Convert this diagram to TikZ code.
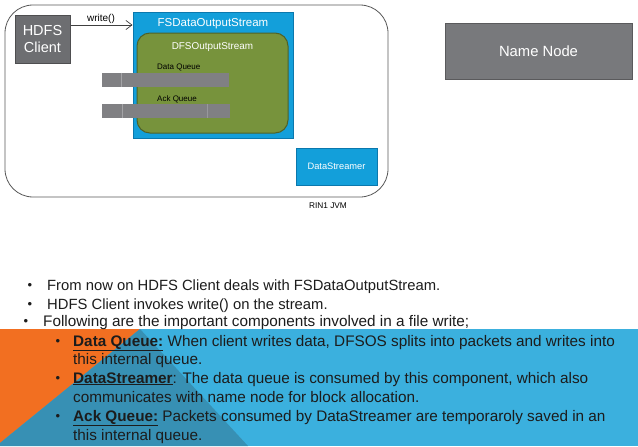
\documentclass[tikz,border=0pt]{standalone}
\usepackage{fontspec}
\setmainfont{Liberation Sans}
\usetikzlibrary{arrows.meta,calc}
\definecolor{boxgray}{HTML}{6D6E71}
\definecolor{boxgrayline}{HTML}{4E4E50}
\definecolor{nngray}{HTML}{78797C}
\definecolor{nngrayline}{HTML}{5A5A5C}
\definecolor{streamblue}{HTML}{139FDA}
\definecolor{streambluel}{HTML}{0B78AD}
\definecolor{dfsgreen}{HTML}{77933C}
\definecolor{dfsgreenl}{HTML}{4F6228}
\definecolor{qgray}{HTML}{808083}
\definecolor{qdiv}{HTML}{A3A3A6}
\definecolor{bandblue}{HTML}{3BB0DE}
\definecolor{banddark}{HTML}{3790B4}
\definecolor{bandorange}{HTML}{F26F21}
\definecolor{txt}{HTML}{1C1C1C}
\newcommand{\fs}[1]{\fontsize{#1}{#1}\selectfont}
\tikzset{
  whitebox/.style={inner sep=0pt, text=white},
  bodytext/.style={anchor=base west, inner sep=0pt, text=txt, font=\fs{14.8}},
  subtext/.style={bodytext, font=\fs{15.3}},
  bul/.style={anchor=base, inner sep=0pt, text=txt, font=\fs{13}},
  small/.style={inner sep=0pt, text=black},
  qbar/.style={fill=qgray, draw=none, inner sep=0pt, minimum height=14pt},
  qline/.style={draw=qdiv, line width=0.8pt}
}
\begin{document}
\begin{tikzpicture}[x=1pt,y=-1pt]
\useasboundingbox (0,0) rectangle (638,447);
\fill[white] (0,0) rectangle (638,447);
% band
\fill[bandblue] (0,329) rectangle (638,446);
\fill[bandorange] (0,329) -- (140,329) -- (0,443) -- cycle;
\fill[banddark] (140,329) -- (248,446) -- (0,446) -- (0,443) -- cycle;
% JVM container
\node[draw=black!65, line width=0.8pt, rounded corners=28pt, minimum width=383pt, minimum height=192pt, inner sep=0pt] (jvm) at (196.5,101) {};
\node[small, font=\fs{8.3}] (jvmlbl) at (328,206) {RIN1 JVM};
% HDFS Client
\node[whitebox, fill=boxgray, draw=boxgrayline, line width=1pt, minimum width=55pt, minimum height=48pt, align=center, font=\fs{14.5}] (client) at (42.5,39) {HDFS\\[3pt]Client};
% FSDataOutputStream
\node[fill=streamblue, draw=streambluel, line width=1pt, minimum width=160pt, minimum height=126pt, inner sep=0pt] (fsd) at (213,75) {};
\node[whitebox, font=\fs{11.5}] (fsdlbl) at (213,24) {FSDataOutputStream};
% DFSOutputStream
\node[fill=dfsgreen, draw=dfsgreenl, line width=1pt, rounded corners=13pt, minimum width=151pt, minimum height=100pt, inner sep=0pt] (dfs) at (212.5,83) {};
\node[whitebox, font=\fs{9.9}] (dfslbl) at (212.5,47) {DFSOutputStream};
% queues
\node[small, anchor=west, font=\fs{8}] (dql) at (157,67) {Data Queue};
\node[qbar, minimum width=127pt] (dq) at (165.5,80) {};
\draw[qline] ($(dq.north west)+(20,0)$) -- ($(dq.south west)+(20,0)$);
\node[small, anchor=west, font=\fs{8}] (aql) at (157,99) {Ack Queue};
\node[qbar, minimum width=128pt] (aq) at (166,111) {};
\draw[qline] ($(aq.north west)+(21,0)$) -- ($(aq.south west)+(21,0)$);
\draw[qline, draw=qdiv!70!qgray] ($(aq.north west)+(106,0)$) -- ($(aq.south west)+(106,0)$);
% DataStreamer
\node[whitebox, fill=streamblue, draw=streambluel, line width=1pt, minimum width=81pt, minimum height=37pt, font=\fs{9.3}] (ds) at (336.5,166.5) {DataStreamer};
% write arrow
\coordinate (wy) at (0,25);
\draw[black!75, line width=0.7pt, -{Straight Barb[length=6pt,width=9pt]}] (client.east |- wy) -- (fsd.west |- wy);
\node[small, font=\fs{10}] (wlbl) at (101,19) {write()};
% Name Node
\node[whitebox, fill=nngray, draw=nngrayline, line width=1pt, minimum width=187pt, minimum height=56pt, font=\fs{14.8}] (nn) at (538.5,51) {Name Node};
% bullets
\node[bul] (bu1) at (30,289) {•};
\node[bodytext] (t1) at (47,290) {From now on HDFS Client deals with FSDataOutputStream.};
\node[bul] (bu2) at (30,308) {•};
\node[bodytext] (t2) at (47,309) {HDFS Client invokes write() on the stream.};
\node[bul] (bu3) at (26,325) {•};
\node[subtext] (t3) at (43,326) {Following are the important components involved in a file write;};
\node[bul] (bu4) at (58,345) {•};
\node[subtext] (t4a) at (73,346) {\textbf{\underline{Data Queue:}} When client writes data, DFSOS splits into packets and writes into};
\node[subtext] (t4b) at (73,364.5) {this internal queue.};
\node[bul] (bu5) at (58,382) {•};
\node[subtext] (t5a) at (73,383) {\textbf{\underline{DataStreamer}}: The data queue is consumed by this component, which also};
\node[subtext] (t5b) at (73,402) {communicates with name node for block allocation.};
\node[bul] (bu6) at (58,420) {•};
\node[subtext] (t6a) at (73,421) {\textbf{\underline{Ack Queue:}} Packets consumed by DataStreamer are temporaroly saved in an};
\node[subtext] (t6b) at (73,440) {this internal queue.};
\end{tikzpicture}
\end{document}
